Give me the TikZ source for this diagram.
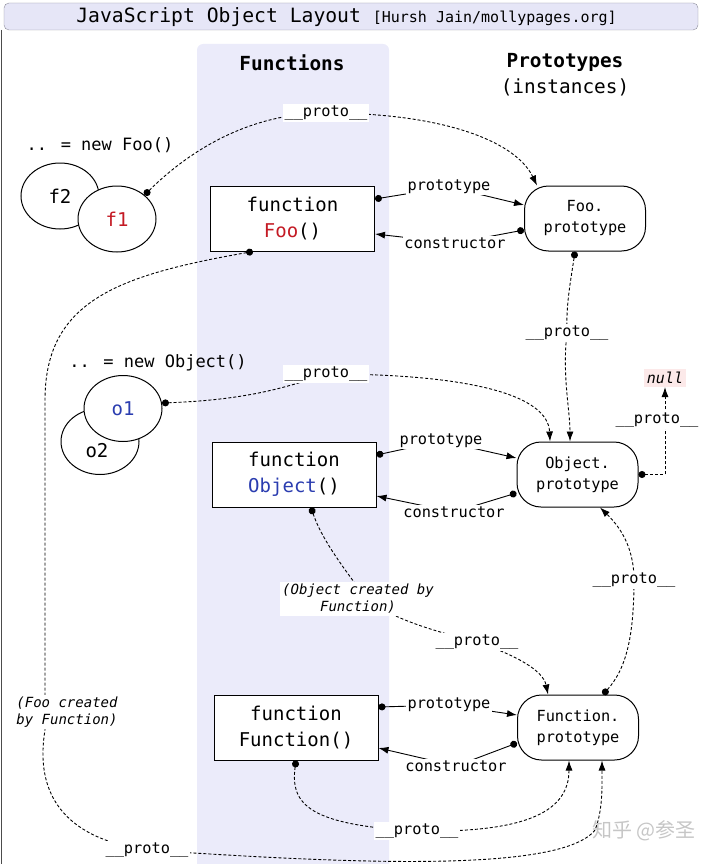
\documentclass[tikz,border=0pt]{standalone}
\usepackage{fontspec}
\setmainfont{DejaVu Sans Mono}
\newfontfamily\cjkfont{Noto Sans CJK SC}
\usetikzlibrary{arrows.meta,shapes.geometric}
\definecolor{colbg}{HTML}{EBEBFA}
\definecolor{titlebg}{HTML}{E6E6F7}
\definecolor{titlebd}{HTML}{8C8C99}
\definecolor{fooRed}{HTML}{C41A24}
\definecolor{objBlue}{HTML}{2B3DB0}
\definecolor{nullbg}{HTML}{FCE9E9}
\tikzset{
 fnbox/.style={draw, line width=1pt, fill=white, minimum width=164pt, minimum height=65pt, align=center, font=\fontsize{19}{26}\selectfont, inner sep=0pt},
 protobox/.style={draw, line width=1pt, fill=white, rounded corners=24pt, minimum width=121pt, minimum height=65pt, align=center, font=\fontsize{15.3}{21}\selectfont, inner sep=0pt},
 inst/.style={ellipse, draw, line width=1pt, fill=white, minimum width=78pt, minimum height=66pt, inner sep=0pt, font=\fontsize{19}{22}\selectfont},
 lbl/.style={fill=white, inner sep=1.5pt, font=\fontsize{15.3}{18}\selectfont},
 note/.style={fill=white, inner sep=2pt, align=center, font=\fontsize{14}{17}\selectfont\itshape},
 link/.style={line width=0.9pt, {Circle[length=7pt]}-{Latex[length=10pt,width=7pt]}},
 dlink/.style={link, dash pattern=on 3pt off 2pt},
}
\begin{document}
\begin{tikzpicture}[x=1pt,y=-1pt]
\useasboundingbox (0,0) rectangle (704,864);
% background column and frame
\fill[colbg, rounded corners=6pt] (197,880) -- (197,44) -- (389,44) -- (389,880) -- cycle;
\draw[gray!60!black, line width=1.5pt] (1.5,30) -- (1.5,864);
\node[draw=titlebd, fill=titlebg, rounded corners=5pt, minimum width=694pt, minimum height=27pt, inner sep=0pt] (title) at (351,16.5) {};
\node[inner sep=0pt] (ttl) at (346.5,17) {\fontsize{19.7}{22}\selectfont JavaScript Object Layout {\fontsize{15}{18}\selectfont [Hursh Jain/mollypages.org]}};
\node[font=\fontsize{19.4}{22}\selectfont\bfseries] (hfun) at (292,63) {Functions};
\node[align=center, font=\fontsize{19.4}{26}\selectfont] (hpro) at (565,75) {\textbf{Prototypes}\\(instances)};

% instances
\node[font=\fontsize{17}{20}\selectfont] (newfoo) at (100,145) {.. = new Foo()};
\node[inst] (f2) at (60,196) {f2};
\node[inst, text=fooRed] (f1) at (117,219) {f1};
\node[font=\fontsize{17}{20}\selectfont] (newobj) at (158,363) {.. = new Object()};
\node[inst] (o2) at (100,441.5) {};
\node[font=\fontsize{19}{22}\selectfont] (o2t) at (97,451) {o2};
\node[inst, text=objBlue] (o1) at (123,408.5) {o1};

% functions and prototypes
\node[fnbox] (fooB) at (292.5,218.5) {function\\\textcolor{fooRed}{Foo}()};
\node[protobox] (fooP) at (585,218.5) {Foo.\\prototype};
\node[fnbox] (objB) at (294,474.5) {function\\\textcolor{objBlue}{Object}()};
\node[protobox] (objP) at (577.5,474.5) {Object.\\prototype};
\node[fill=nullbg, font=\fontsize{15}{18}\selectfont\itshape, inner sep=3pt] (null) at (665,378) {null};
\node[fnbox] (funB) at (296,727.5) {function\\Function()};
\node[protobox] (funP) at (578,727.5) {Function.\\prototype};

% label positions
\coordinate (lp1) at (326,113);
\coordinate (lpr1) at (449,187);
\coordinate (lc1) at (455,243);
\coordinate (lp2) at (567,333);
\coordinate (lp3) at (326,374);
\coordinate (lpr2) at (441,441);
\coordinate (lc2) at (454,512);
\coordinate (lpn) at (657,420);
\coordinate (lp4) at (634,580);
\coordinate (nObjP) at (366,598);
\coordinate (lp5) at (477,642);
\coordinate (lpr3) at (449,705);
\coordinate (lc3) at (456,766);
\coordinate (lp6) at (417,831);
\coordinate (lp7) at (147,850);
\coordinate (bendA) at (45,400);
\coordinate (bendB) at (45,730);
\coordinate (bendC) at (595,830);

% connectors
\draw[dlink] (f1.41) .. controls (190,150) and (250,113) .. (lp1) .. controls (440,113) and (515,140) .. ([xshift=-48pt]fooP.north);
\draw[link] ([yshift=19.5pt]fooB.east) -- (lpr1) -- ([yshift=13.5pt]fooP.west);
\draw[link] ([yshift=-11.5pt]fooP.west) -- (lc1) -- ([yshift=-15.5pt]fooB.east);
\draw[dlink] ([xshift=-10pt]fooP.south) .. controls (570,285) and (566,305) .. (lp2) .. controls (562,375) and (570,410) .. ([xshift=-7.5pt]objP.north);
\draw[dlink] (o1.8) .. controls (240,400) and (280,390) .. (lp3) .. controls (470,374) and (548,395) .. ([xshift=-27.5pt]objP.north);
\draw[link] ([yshift=19.5pt]objB.east) -- (lpr2) -- ([yshift=16.5pt]objP.west);
\draw[link] ([yshift=-18.5pt]objP.west) -- (lc2) -- ([yshift=-21.5pt]objB.east);
\draw[dlink] (objP.east) -| (null.south);
\draw[dlink] ([xshift=25pt]funP.north) .. controls (625,670) and (634,640) .. (lp4) .. controls (634,545) and (618,525) .. ([xshift=22.5pt]objP.south);
\draw[dlink] ([xshift=17pt]objB.south) .. controls (322,540) and (345,570) .. (nObjP) .. controls (390,618) and (430,630) .. (lp5) .. controls (515,655) and (543,670) .. ([xshift=-30pt]funP.north);
\draw[link] ([yshift=20.5pt]funB.east) -- (lpr3) -- ([yshift=12.5pt]funP.west);
\draw[link] ([yshift=-15.5pt]funP.west) -- (lc3) -- ([yshift=-20.5pt]funB.east);
\draw[dlink] (funB.south) .. controls (290,805) and (310,825) .. (lp6) .. controls (530,833) and (569,810) .. ([xshift=-9pt]funP.south);
\draw[dlink] ([xshift=-39.5pt]fooB.south) .. controls (120,275) and (45,300) .. (bendA) -- (bendB) .. controls (35,790) and (60,838) .. (lp7) .. controls (330,862) and (560,875) .. (bendC) .. controls (603,810) and (602,785) .. ([xshift=24pt]funP.south);

% labels
\node[lbl] (tp1) at (lp1) {\_\_proto\_\_};
\node[lbl] (tpr1) at (lpr1) {prototype};
\node[lbl] (tc1) at (lc1) {constructor};
\node[lbl] (tp2) at (lp2) {\_\_proto\_\_};
\node[lbl] (tp3) at (lp3) {\_\_proto\_\_};
\node[lbl] (tpr2) at (lpr2) {prototype};
\node[lbl] (tc2) at (lc2) {constructor};
\node[lbl] (tpn) at (lpn) {\_\_proto\_\_};
\node[lbl] (tp4) at (lp4) {\_\_proto\_\_};
\node[note] (nObj) at (358,599) {(Object created by\\Function)};
\node[lbl] (tp5) at (lp5) {\_\_proto\_\_};
\node[lbl] (tpr3) at (lpr3) {prototype};
\node[lbl] (tc3) at (lc3) {constructor};
\node[lbl] (tp6) at (lp6) {\_\_proto\_\_};
\node[note] (nFoo) at (67,712) {(Foo created\\by Function)};
\node[lbl] (tp7) at (lp7) {\_\_proto\_\_};
\node[text=gray!45, font=\cjkfont\fontsize{20}{24}\selectfont] (wm) at (644,831) {知乎 @参圣};
\end{tikzpicture}
\end{document}
